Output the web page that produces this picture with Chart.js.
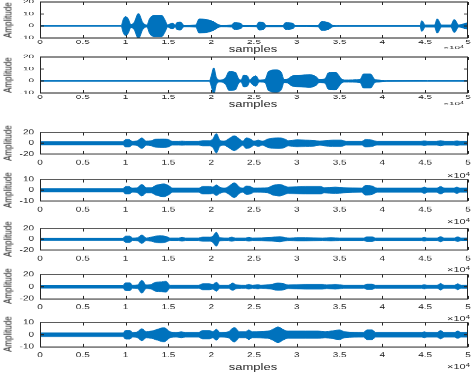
<!DOCTYPE html>
<html>
<head>
<meta charset="utf-8">
<script src="https://cdn.jsdelivr.net/npm/chart.js@4.4.0/dist/chart.umd.min.js"></script>
<style>
  body { margin: 0; width: 474px; height: 372px; background: #fff; overflow: hidden; position: relative;
         font-family: "Liberation Sans", Arial, sans-serif; }
  .wrap { position: absolute; left: 0; width: 474px; transform-origin: 0 0; }
  .lbl { position: absolute; color: #262626; white-space: nowrap; line-height: 1; }
</style>
</head>
<body>
<script>
// x in units of 10^4 samples, amplitude = envelope of each trace
const p1X = [0, 0.95, 0.97, 1.0, 1.03, 1.06, 1.1, 1.15, 1.2, 1.25, 1.28, 1.33, 1.42, 1.46, 1.49, 1.52, 1.55, 1.58, 1.6, 1.64, 1.68, 1.82, 1.86, 1.95, 2.02, 2.08, 2.12, 2.24, 2.27, 2.34, 2.37, 2.53, 2.56, 2.61, 2.64, 2.84, 2.87, 2.95, 2.98, 3.25, 3.29, 3.37, 3.42, 3.5, 4.44, 4.46, 4.5, 4.61, 4.64, 4.69, 4.8, 4.84, 4.89, 4.95, 5];
const p1A = [0.4, 0.4, 5, 8, 6, 1.5, 3, 10.5, 3, 1, 6, 9, 9, 5, 1, 2, 2.5, 0.8, 3, 3.5, 0.8, 1, 6, 5.5, 4, 1.5, 0.8, 1, 3, 2.5, 0.7, 0.8, 3.5, 3, 0.8, 0.8, 3, 2.5, 0.6, 0.8, 3.8, 3, 0.8, 0.5, 0.5, 4.5, 1, 1, 6, 1, 1, 5.5, 1, 2, 3];

const p2X = [0, 1.98, 2.0, 2.03, 2.06, 2.1, 2.17, 2.21, 2.28, 2.32, 2.35, 2.38, 2.42, 2.45, 2.49, 2.52, 2.56, 2.63, 2.67, 2.76, 2.82, 2.85, 2.9, 2.95, 3.05, 3.15, 3.22, 3.26, 3.33, 3.37, 3.45, 3.52, 3.56, 3.74, 3.78, 3.86, 3.91, 3.96, 4.05, 5];
const p2A = [0.4, 0.4, 4, 11, 3, 1, 3, 8, 7.5, 2, 1, 5, 4.5, 1, 3.5, 4.5, 1, 1.5, 8, 9.5, 7, 1.5, 2, 4.5, 5, 5.5, 4, 1.5, 2, 7, 7.5, 2, 1, 1.5, 6, 6, 1.5, 1, 0.5, 0.4];

const p3X = [0, 0.97, 1.0, 1.04, 1.08, 1.14, 1.19, 1.24, 1.3, 1.35, 1.45, 1.5, 1.55, 1.62, 1.66, 1.7, 1.85, 1.9, 1.98, 2.02, 2.06, 2.1, 2.15, 2.2, 2.27, 2.33, 2.37, 2.41, 2.46, 2.5, 2.55, 2.6, 2.66, 2.72, 2.8, 2.86, 2.9, 3.0, 3.1, 3.2, 3.27, 3.32, 3.42, 3.52, 3.58, 3.76, 3.8, 3.88, 3.94, 4.45, 4.49, 4.53, 4.63, 4.68, 4.73, 4.83, 4.87, 4.91, 5];
const p3A = [3, 3, 7, 7, 3.5, 5, 10, 4, 5, 7.5, 8, 7, 3.5, 3.5, 4, 3.5, 3.5, 5, 5, 8, 18, 6, 4, 8, 14, 8, 4, 10, 8, 4, 6, 4, 8, 9.5, 10, 8, 5, 6.5, 6, 5.5, 4, 5, 6, 6, 3.5, 3.5, 7, 6, 3.5, 3.5, 4.5, 3.5, 3.5, 5, 3.5, 3.5, 4.5, 3.5, 3.5];

const p4X = [0, 0.97, 1.0, 1.04, 1.08, 1.14, 1.19, 1.24, 1.3, 1.35, 1.45, 1.5, 1.55, 1.85, 1.9, 1.98, 2.02, 2.06, 2.1, 2.16, 2.21, 2.27, 2.33, 2.37, 2.41, 2.46, 2.5, 2.66, 2.72, 2.8, 2.86, 2.9, 3.1, 3.28, 3.32, 3.45, 3.55, 3.76, 3.8, 3.88, 3.94, 4.45, 4.49, 4.53, 4.63, 4.68, 4.73, 4.83, 4.87, 4.91, 5];
const p4A = [1.5, 1.5, 3.5, 3.5, 2, 2.5, 5.5, 2.5, 2.5, 4.5, 6, 4.5, 2, 2, 3.5, 3.5, 3, 5, 3, 2, 4, 7, 3, 2, 4, 3.5, 2, 2.5, 4.5, 5.5, 4, 3, 3.5, 3.5, 2.5, 3, 2.5, 2, 4.5, 4, 2, 2, 3, 2, 2, 3.5, 2, 2, 3, 2, 2];

const p5X = [0, 0.97, 1.0, 1.05, 1.08, 1.14, 1.19, 1.24, 1.3, 1.35, 1.42, 1.48, 1.52, 1.62, 1.66, 1.7, 1.85, 1.9, 1.98, 2.02, 2.06, 2.1, 2.2, 2.24, 2.28, 2.4, 2.44, 2.48, 2.7, 2.8, 2.87, 2.92, 3.0, 3.1, 3.3, 3.4, 3.5, 3.78, 3.82, 3.88, 3.92, 4.46, 4.49, 4.52, 4.64, 4.68, 4.72, 4.84, 4.88, 4.92, 5];
const p5A = [2.2, 2.2, 6, 6, 2.5, 3, 8, 2.5, 4, 6, 6.5, 5, 2.5, 2.5, 3.5, 2.5, 2.5, 4, 4, 6, 13, 3, 2.5, 4, 2.5, 2.5, 3.5, 2.5, 3.5, 5, 3, 2.5, 3, 3, 2.5, 3, 2.5, 2.5, 4.5, 4.5, 2.5, 2.5, 3.5, 2.5, 2.5, 5, 2.5, 2.5, 4.5, 2.5, 2.5];

const p6X = [0, 0.97, 1.0, 1.05, 1.08, 1.14, 1.19, 1.24, 1.3, 1.35, 1.42, 1.47, 1.52, 1.85, 1.9, 1.98, 2.02, 2.06, 2.1, 2.2, 2.25, 2.3, 2.4, 2.44, 2.48, 2.52, 2.55, 2.58, 2.7, 2.78, 2.85, 2.9, 3.1, 3.3, 3.35, 3.45, 3.55, 3.78, 3.82, 3.88, 3.92, 4.46, 4.49, 4.52, 4.64, 4.68, 4.72, 4.84, 4.88, 4.92, 5];
const p6A = [2.3, 2.3, 6.5, 6.5, 2.5, 3, 10.5, 3, 4, 7.5, 8, 9, 2.5, 2.5, 5, 5, 4, 7.5, 2.5, 2.5, 6, 3, 2.5, 4, 2.5, 3, 3.5, 2.5, 4, 6, 5, 3, 4, 4, 3, 4, 2.5, 2.5, 4.5, 4.5, 2.5, 2.5, 3.5, 2.5, 2.5, 5.5, 2.5, 2.5, 5, 2.5, 2.5];

const p7X = [0, 0.97, 1.0, 1.05, 1.08, 1.14, 1.19, 1.24, 1.3, 1.35, 1.45, 1.52, 1.6, 1.65, 1.7, 1.85, 1.9, 1.98, 2.02, 2.06, 2.1, 2.2, 2.27, 2.33, 2.4, 2.44, 2.48, 2.66, 2.72, 2.78, 2.85, 2.9, 3.1, 3.25, 3.33, 3.5, 3.56, 3.78, 3.82, 3.88, 3.92, 4.46, 4.49, 4.52, 4.64, 4.68, 4.72, 4.84, 4.88, 4.92, 5];
const p7A = [1.5, 1.5, 3.6, 3.6, 2, 2.5, 5, 2.5, 3, 4, 5.8, 2.5, 2, 2.5, 2, 2, 3.5, 3.5, 2.5, 4.5, 2, 2.5, 6, 2.5, 2.5, 4, 2.5, 3, 4.5, 6.5, 4, 3, 3, 3, 2.5, 4, 2.5, 2, 4, 4, 2, 2, 2.5, 2, 2, 3.5, 2, 2, 3, 2, 2];

const xTicks = [0, 0.5, 1, 1.5, 2, 2.5, 3, 3.5, 4, 4.5, 5];

// layout of each subplot (page px); s = vertical squash of the text, like the source image
const plots = [
  { x: p1X, a: p1A, top: 2,   bottom: 38,  min: -10, max: 20, step: 10, s: 0.45, font: 10, pad: 3.5, samples: 48.5, exp: 48 },
  { x: p2X, a: p2A, top: 57,  bottom: 93,  min: -10, max: 20, step: 10, s: 0.45, font: 10, pad: 3.5, samples: 104,  exp: 104 },
  { x: p3X, a: p3A, top: 131, bottom: 154, min: -20, max: 20, step: 20, s: 0.62, font: 10, pad: 8, exp: 175.5 },
  { x: p4X, a: p4A, top: 178, bottom: 201, min: -10, max: 10, step: 10, s: 0.62, font: 10, pad: 8, exp: 222 },
  { x: p5X, a: p5A, top: 227, bottom: 250, min: -20, max: 20, step: 20, s: 0.62, font: 10, pad: 8, exp: 270 },
  { x: p6X, a: p6A, top: 273, bottom: 299, min: -20, max: 20, step: 20, s: 0.62, font: 10, pad: 8, exp: 319 },
  { x: p7X, a: p7A, top: 321, bottom: 347, min: -10, max: 10, step: 10, s: 0.62, font: 10, pad: 8, samples: 367, exp: 367 }
];

const blue = '#0072BD';
const ink = '#262626';
const family = '"Liberation Sans", Arial, sans-serif';

// matlab style box with inward ticks on all four sides
const boxPlugin = {
  id: 'box',
  afterDraw(chart, args, opts) {
    const { ctx, chartArea: a, scales } = chart;
    const s = opts.s;
    ctx.save();
    ctx.strokeStyle = ink;
    ctx.lineWidth = 1;
    ctx.beginPath();
    ctx.moveTo(a.left + 0.5, a.top); ctx.lineTo(a.left + 0.5, a.bottom);
    ctx.moveTo(a.right - 0.5, a.top); ctx.lineTo(a.right - 0.5, a.bottom);
    scales.x.ticks.forEach(t => {
      const px = Math.round(scales.x.getPixelForValue(t.value)) + 0.5;
      ctx.moveTo(px, a.bottom); ctx.lineTo(px, a.bottom - 3 / s);
      ctx.moveTo(px, a.top); ctx.lineTo(px, a.top + 3 / s);
    });
    ctx.stroke();
    ctx.lineWidth = 1 / s;
    ctx.beginPath();
    ctx.moveTo(a.left, a.top); ctx.lineTo(a.right, a.top);
    ctx.moveTo(a.left, a.bottom); ctx.lineTo(a.right, a.bottom);
    scales.y.ticks.forEach(t => {
      const py = scales.y.getPixelForValue(t.value);
      ctx.moveTo(a.left, py); ctx.lineTo(a.left + 4, py);
      ctx.moveTo(a.right, py); ctx.lineTo(a.right - 4, py);
    });
    ctx.stroke();
    ctx.restore();
  }
};

function addLabel(text, css) {
  const d = document.createElement('div');
  d.className = 'lbl';
  d.innerHTML = text;
  Object.assign(d.style, css);
  document.body.appendChild(d);
}

plots.forEach(p => {
  const padTop = 6 / p.s;
  const plotH = (p.bottom - p.top) / p.s;
  const H = Math.round(padTop + plotH + 18 / p.s);
  const axisH = H - padTop - plotH;

  const wrap = document.createElement('div');
  wrap.className = 'wrap';
  wrap.style.top = (p.top - 6) + 'px';
  wrap.style.height = H + 'px';
  wrap.style.transform = 'scaleY(' + p.s + ')';
  const cv = document.createElement('canvas');
  cv.width = 474;
  cv.height = H;
  wrap.appendChild(cv);
  document.body.appendChild(wrap);

  new Chart(cv, {
    type: 'line',
    data: {
      datasets: [
        { data: p.x.map((x, i) => ({ x: x, y: p.a[i] })), fill: '+1' },
        { data: p.x.map((x, i) => ({ x: x, y: -p.a[i] })), fill: false }
      ]
    },
    options: {
      responsive: false,
      animation: false,
      devicePixelRatio: 1,
      layout: { padding: { top: padTop, right: 6, left: 0, bottom: 0 } },
      elements: {
        point: { radius: 0 },
        line: { cubicInterpolationMode: 'monotone', borderWidth: 1, borderColor: blue, backgroundColor: blue }
      },
      plugins: { legend: { display: false }, tooltip: { enabled: false }, box: { s: p.s } },
      scales: {
        x: {
          type: 'linear', min: 0, max: 5,
          grid: { display: false, drawTicks: false }, border: { display: false },
          afterBuildTicks: sc => { sc.ticks = xTicks.map(v => ({ value: v })); },
          ticks: { autoSkip: false, maxRotation: 0, padding: p.pad, color: ink,
                   font: { family: family, size: p.font }, callback: v => String(v) },
          afterFit: sc => { sc.height = axisH; sc.paddingLeft = 0; sc.paddingRight = 0; }
        },
        y: {
          min: p.min, max: p.max,
          grid: { display: false, drawTicks: false }, border: { display: false },
          ticks: { stepSize: p.step, padding: 6, color: ink, font: { family: family, size: p.font } },
          afterFit: sc => { sc.width = 40; }
        }
      }
    },
    plugins: [boxPlugin]
  });

  const mid = (p.top + p.bottom) / 2;
  addLabel('Amplitude', { left: '8px', top: mid + 'px', fontSize: '11px',
    transform: 'translate(-50%, -50%) rotate(-90deg) scale(0.73, 1)' });
  if (p.samples) {
    addLabel('samples', { left: '253px', top: p.samples + 'px', fontSize: '13px',
      transform: 'translate(-50%, -50%) scaleY(0.7)' });
  }
  const small = p.s < 0.5;
  addLabel('&times;10<sup style="font-size:70%;vertical-align:45%">4</sup>',
    { right: small ? '10px' : '4px', top: p.exp + 'px', fontSize: small ? '10px' : '11px',
      transform: 'translateY(-50%) scaleY(' + (small ? 0.4 : 0.65) + ')' });
});
</script>
</body>
</html>
